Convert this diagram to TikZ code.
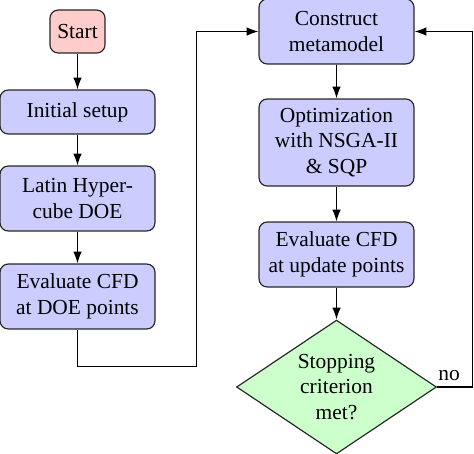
\documentclass[tikz,border=0pt]{standalone}
\usepackage{fontspec}
\setmainfont{Liberation Serif}
\usetikzlibrary{shapes.geometric,arrows.meta}
\begin{document}
\begin{tikzpicture}[x=0.4667pt,y=-0.4667pt,
  font=\rmfamily\fontsize{10}{12}\selectfont,
  box/.style={draw=black!85, line width=0.55pt, rounded corners=3.8pt, fill=blue!20,
    align=center, inner sep=0pt, minimum width=72.3pt},
  startbox/.style={box, fill=red!20, minimum width=25.7pt, minimum height=20pt},
  decision/.style={diamond, draw=black!85, line width=0.55pt, fill=green!20, align=center,
    inner sep=0pt, aspect=1.5, minimum width=93.3pt, minimum height=62.5pt},
  conn/.style={line width=0.6pt, draw=black},
  arr/.style={conn, -{Latex[length=5.5pt,width=4pt]}}]
\useasboundingbox (0,0) rectangle (474,453);
\node[startbox] (start) at (77.5,31.5) {Start};
\node[box, minimum height=20.5pt] (init) at (77.5,112) {Initial setup};
\node[box, minimum height=30.3pt] (lhs) at (77.5,198.5) {Latin Hyper-\\cube DOE};
\node[box, minimum height=30.3pt] (evdoe) at (77.5,296.5) {Evaluate CFD\\at DOE points};
\node[box, minimum height=30.3pt] (meta) at (336.5,31.5) {Construct\\metamodel};
\node[box, minimum height=40.6pt] (opt) at (336.5,142.5) {Optimization\\with NSGA-II\\\& SQP};
\node[box, minimum height=30.3pt] (evup) at (336.5,254.5) {Evaluate CFD\\at update points};
\node[decision] (stop) at (336.5,387) {Stopping\\criterion\\met?};
\coordinate (l1) at (77.5,366.5);
\coordinate (l2) at (196.5,366.5);
\coordinate (l3) at (196.5,31.5);
\coordinate (r1) at (472.5,387);
\coordinate (r2) at (472.5,31.5);
\draw[arr] (start) -- (init);
\draw[arr] (init) -- (lhs);
\draw[arr] (lhs) -- (evdoe);
\draw[arr] (evdoe.south) -- (l1) -- (l2) -- (l3) -- (meta.west);
\draw[arr] (meta) -- (opt);
\draw[arr] (opt) -- (evup);
\draw[arr] (evup) -- (stop.north);
\draw[arr] (stop.east) -- (r1) -- (r2) -- (meta.east);
\node[anchor=south, inner sep=0pt] (no) at (449,381) {no};
\end{tikzpicture}
\end{document}
